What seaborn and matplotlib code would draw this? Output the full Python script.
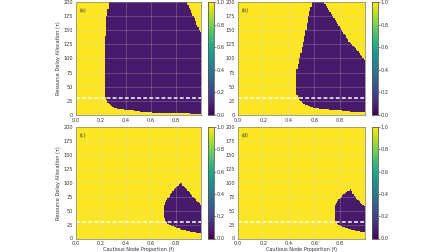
import numpy as np
import matplotlib
matplotlib.use("Agg")
import matplotlib.pyplot as plt
import seaborn as sns

# f grid (columns) and tau grid (rows)
f_values = np.arange(100) / 100.0
tau_values = np.arange(200)

# cell values: outside the region / inside the region
value_outside = 1.0
value_inside = 0.07

# Boundaries of the dark region:
# at each tau level, the region spans f_left < f < f_right
tau_a = [0, 2, 4, 8, 12, 20, 30, 50, 100, 140, 150, 175, 200]
left_a = [1.01, 0.90, 0.60, 0.40, 0.30, 0.25, 0.23, 0.22, 0.22, 0.23, 0.23, 0.24, 0.26]
right_a = [1.01, 1.01, 1.01, 1.01, 1.01, 1.01, 1.01, 1.01, 1.01, 1.01, 0.98, 0.93, 0.88]

tau_b = [0, 4, 5, 8, 12, 18, 25, 35, 50, 70, 90, 110, 130, 150, 175, 200]
left_b = [1.01, 1.01, 0.93, 0.75, 0.60, 0.52, 0.48, 0.46, 0.45, 0.45, 0.47, 0.49, 0.51, 0.53, 0.55, 0.58]
right_b = [1.01, 1.01, 1.01, 1.01, 1.01, 1.01, 1.01, 1.01, 1.01, 1.01, 1.01, 0.95, 0.87, 0.81, 0.74, 0.67]

tau_c = [0, 7, 10, 15, 20, 25, 35, 50, 55, 65, 75, 85, 95, 105]
left_c = [1.01, 1.01, 0.95, 0.85, 0.78, 0.73, 0.70, 0.69, 0.69, 0.71, 0.74, 0.77, 0.81, 0.86]
right_c = [1.01, 1.01, 1.01, 1.01, 1.01, 1.01, 1.01, 1.01, 1.01, 0.97, 0.93, 0.89, 0.85, 0.82]

tau_d = [0, 10, 12, 16, 20, 25, 35, 50, 55, 60, 70, 80, 90]
left_d = [1.01, 1.01, 0.95, 0.88, 0.82, 0.78, 0.75, 0.75, 0.75, 0.76, 0.79, 0.83, 0.90]
right_d = [1.01, 1.01, 1.01, 1.01, 1.01, 1.01, 1.01, 1.01, 1.01, 0.98, 0.93, 0.90, 0.88]

panels = [
    ("(a)", tau_a, left_a, right_a),
    ("(b)", tau_b, left_b, right_b),
    ("(c)", tau_c, left_c, right_c),
    ("(d)", tau_d, left_d, right_d),
]

tau_threshold = 30

x_ticks = [0.0, 0.2, 0.4, 0.6, 0.8]
y_ticks = [0, 25, 50, 75, 100, 125, 150, 175, 200]
cbar_ticks = [0.0, 0.2, 0.4, 0.6, 0.8, 1.0]


def build_grid(tau_pts, left_pts, right_pts):
    grid = np.full((len(tau_values), len(f_values)), value_outside)
    top_open = tau_pts[-1] >= 200
    lo = np.interp(tau_values, tau_pts, left_pts, right=left_pts[-1] if top_open else 2.0)
    hi = np.interp(tau_values, tau_pts, right_pts, right=right_pts[-1] if top_open else 0.0)
    for i in range(len(tau_values)):
        mask = (f_values > lo[i]) & (f_values < hi[i])
        grid[i, mask] = value_inside
    return grid


sns.set_style("white")
plt.rcParams['font.family'] = ['DejaVu Sans']

W, H = 448, 252
fig = plt.figure(figsize=(W / 100, H / 100), dpi=100)

# axes boxes in pixels: (left, top, right, bottom)
ax_boxes = [(76, 2, 201, 115), (238, 2, 365, 115), (76, 127, 201, 238.5), (238, 127, 365, 238.5)]
cb_boxes = [(208, 2, 213.5, 115), (372, 2, 377.5, 115), (208, 127, 213.5, 238.5), (372, 127, 377.5, 238.5)]


def to_fig(box):
    l, t, r, b = box
    return [l / W, 1 - b / H, (r - l) / W, (b - t) / H]


fs = 3.6
for k, (label, tp, lp, rp) in enumerate(panels):
    ax = fig.add_axes(to_fig(ax_boxes[k]))
    cax = fig.add_axes(to_fig(cb_boxes[k]))
    grid = build_grid(tp, lp, rp)
    sns.heatmap(grid, ax=ax, cbar_ax=cax, cmap="viridis", vmin=0, vmax=1,
                xticklabels=False, yticklabels=False, rasterized=True)
    ax.set_ylim(0, len(tau_values))
    ax.set_xlim(0, len(f_values))
    ax.set_xticks([x * 100 for x in x_ticks])
    ax.set_xticklabels([f"{x:.1f}" for x in x_ticks], fontsize=fs, rotation=0)
    ax.set_yticks(y_ticks)
    ax.set_yticklabels([str(y) for y in y_ticks], fontsize=fs, rotation=0)
    ax.tick_params(length=1.2, width=0.4, pad=0.8, colors="#333333")
    ax.grid(True, color="#cccccc", alpha=0.35, lw=0.5)
    ax.set_axisbelow(False)
    ax.axhline(tau_threshold, color="white", ls="--", lw=1.1, dashes=(2.5, 1.5))
    ax.text(0.03, 0.95, label, transform=ax.transAxes, fontsize=fs, color="#333333",
            va="top", ha="left")
    for s in ax.spines.values():
        s.set_visible(True)
        s.set_linewidth(0.4)
        s.set_color("#555555")
    if k % 2 == 0:
        ax.set_ylabel("Resource Delay Allocation (τ)", fontsize=fs, labelpad=2, color="#333333")
    if k >= 2:
        ax.set_xlabel("Cautious Node Proportion (f)", fontsize=fs, labelpad=0.6, color="#333333")

    cax.tick_params(labelsize=fs, length=1.2, width=0.4, pad=0.8, colors="#333333")
    cax.set_yticks(cbar_ticks)
    cax.set_yticklabels([f"{c:.1f}" for c in cbar_ticks])
    for s in cax.spines.values():
        s.set_visible(True)
        s.set_linewidth(0.4)
        s.set_color("#555555")

fig.savefig("out.png", dpi=100)
